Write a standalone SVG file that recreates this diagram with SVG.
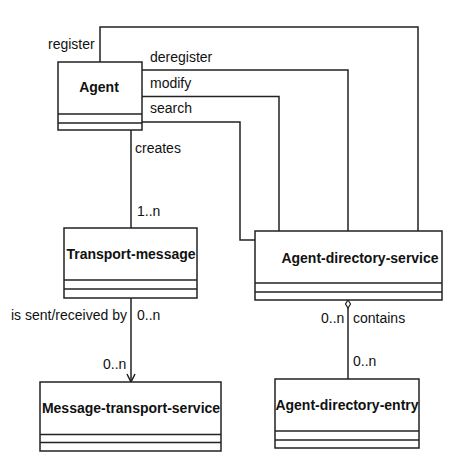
<svg xmlns="http://www.w3.org/2000/svg" width="474" height="474" viewBox="0 0 474 474">
<defs>
<style>
.box{fill:#fff;stroke:#222;stroke-width:1.5}
.div{stroke:#222;stroke-width:1.5}
.ln{fill:none;stroke:#222;stroke-width:1.5}
.t{font-family:"Liberation Sans",Arial,sans-serif;font-size:14px;font-weight:bold;fill:#111;text-anchor:middle}
.l{font-family:"Liberation Sans",Arial,sans-serif;font-size:14px;fill:#111}
</style>
</defs>
<rect width="474" height="474" fill="#fff"/>
<g id="connectors">
<polyline class="ln" points="100,62 100,27 418,27 418,231"/>
<polyline class="ln" points="142,70 348,70 348,231"/>
<polyline class="ln" points="142,96.5 279,96.5 279,231"/>
<polyline class="ln" points="142,122 240,122 240,240 255,240"/>
<line class="ln" x1="131" y1="130" x2="131" y2="228"/>
<line class="ln" x1="131" y1="298" x2="131" y2="382"/>
<polyline class="ln" points="127,374 131,382 135,374"/>
<line class="ln" x1="348" y1="308" x2="348" y2="379"/>
<polygon points="348,300 350.5,304 348,308 345.5,304" fill="#fff" stroke="#222" stroke-width="1.2"/>
<text class="l" x="48" y="49">register</text>
<text class="l" x="150" y="62">deregister</text>
<text class="l" x="150" y="88">modify</text>
<text class="l" x="150" y="113">search</text>
<text class="l" x="135" y="153">creates</text>
<text class="l" x="137" y="216">1..n</text>
<text class="l" x="11" y="320">is sent/received by</text>
<text class="l" x="137" y="320">0..n</text>
<text class="l" x="103" y="369">0..n</text>
<text class="l" x="321" y="323">0..n</text>
<text class="l" x="353" y="323">contains</text>
<text class="l" x="353" y="366">0..n</text>
</g>
<g id="agent">
<rect class="box" x="58" y="62" width="84" height="68"/>
<line class="div" x1="58" y1="114" x2="142" y2="114"/>
<line class="div" x1="58" y1="123" x2="142" y2="123"/>
<text class="t" x="99" y="92">Agent</text>
</g>
<g id="transport-message">
<rect class="box" x="64" y="228" width="133" height="70"/>
<line class="div" x1="64" y1="280" x2="197" y2="280"/>
<line class="div" x1="64" y1="289" x2="197" y2="289"/>
<text class="t" x="131" y="259">Transport-message</text>
</g>
<g id="agent-directory-service">
<rect class="box" x="255" y="231" width="187" height="69"/>
<line class="div" x1="255" y1="283" x2="442" y2="283"/>
<line class="div" x1="255" y1="292" x2="442" y2="292"/>
<text class="t" x="360" y="263">Agent-directory-service</text>
</g>
<g id="message-transport-service">
<rect class="box" x="40" y="382" width="181" height="69"/>
<line class="div" x1="40" y1="434.5" x2="221" y2="434.5"/>
<line class="div" x1="40" y1="442.5" x2="221" y2="442.5"/>
<text class="t" x="131" y="413">Message-transport-service</text>
</g>
<g id="agent-directory-entry">
<rect class="box" x="275" y="379" width="144" height="69"/>
<line class="div" x1="275" y1="431" x2="419" y2="431"/>
<line class="div" x1="275" y1="440" x2="419" y2="440"/>
<text class="t" x="347" y="410">Agent-directory-entry</text>
</g>
</svg>
